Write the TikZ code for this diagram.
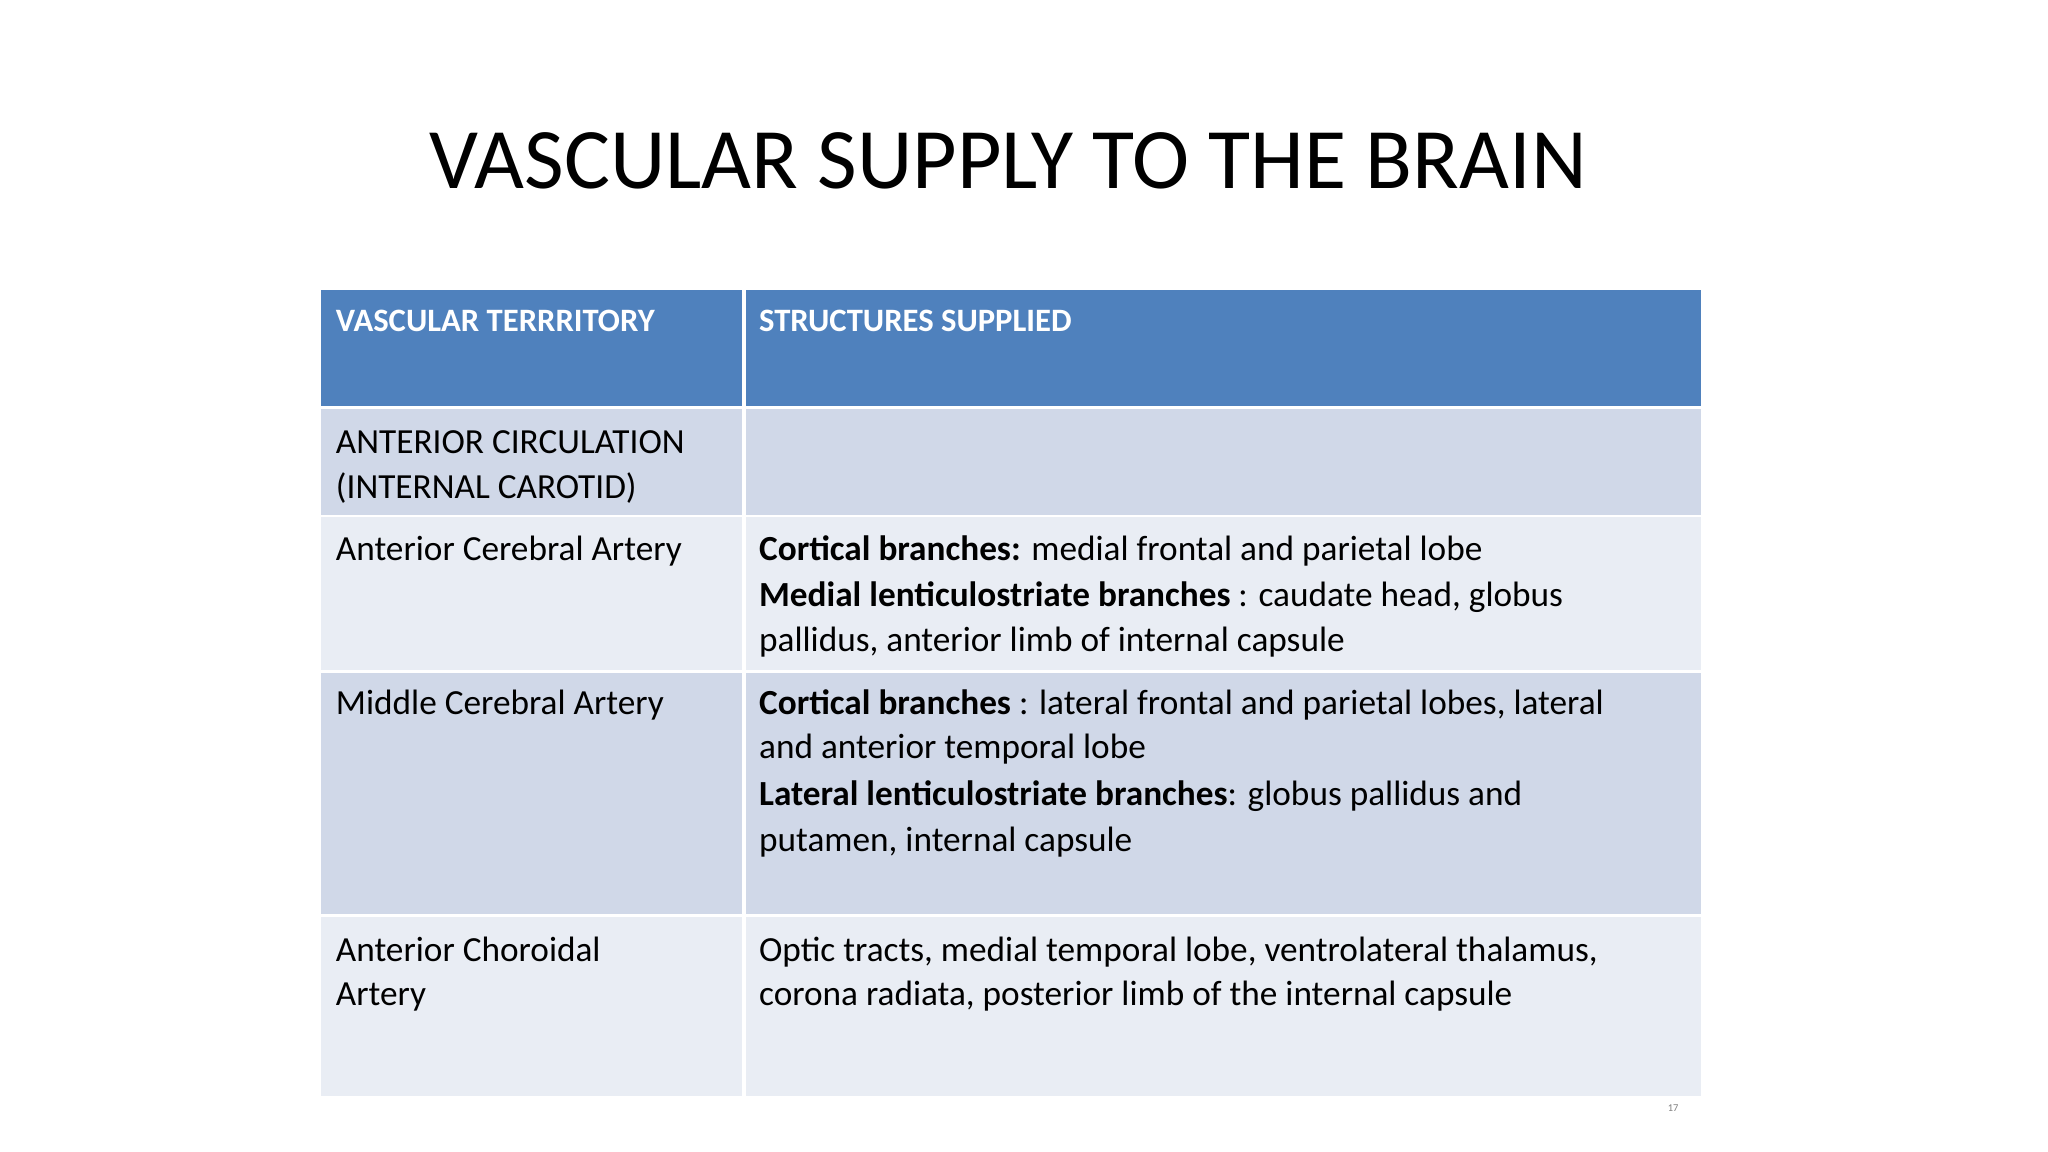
\documentclass[tikz,border=0pt]{standalone}
\usepackage{fontspec}
\setmainfont{Carlito}
\definecolor{hdr}{HTML}{4F81BD}
\definecolor{dark}{HTML}{D0D8E8}
\definecolor{light}{HTML}{E9EDF4}
\begin{document}
\begin{tikzpicture}[x=1pt,y=-1pt,
  cell/.style={draw=white,line width=3pt},
  txt/.style={anchor=base west,inner sep=0,font=\fontsize{27}{33}\selectfont,text=black},
  htxt/.style={anchor=base west,inner sep=0,font=\fontsize{25}{30}\selectfont\bfseries,text=white}]
\useasboundingbox[fill=white] (0,0) rectangle (1568,882);
\node[anchor=base,inner sep=0,font=\fontsize{66}{70}\selectfont] (title) at (772,144) {VASCULAR SUPPLY TO THE BRAIN};
% cells
\fill[hdr] (246,222) rectangle (1302,311);
\draw[white,line width=3pt] (569.5,222) -- (569.5,311);
\fill[dark] (246,313) rectangle (1302,394);
\fill[light] (246,396) rectangle (1302,513);
\fill[dark] (246,515) rectangle (1302,700);
\fill[light] (246,702) rectangle (1302,839);
\draw[white,line width=3pt] (569.5,311) -- (569.5,839);
% header
\node[htxt] (h1) at (257,254) {VASCULAR TERRRITORY};
\node[htxt] (h2) at (581,254) {STRUCTURES SUPPLIED};
% row 1
\node[txt] (a1) at (257,347) {ANTERIOR CIRCULATION};
\node[txt] (a2) at (257,382) {(INTERNAL CAROTID)};
% row 2
\node[txt] (b1) at (257,429) {Anterior Cerebral Artery};
\node[txt] (b2) at (581,429) {\textbf{Cortical branches:} medial frontal and parietal lobe};
\node[txt] (b3) at (581,464) {\textbf{Medial lenticulostriate branches} : caudate head, globus};
\node[txt] (b4) at (581,499) {pallidus, anterior limb of internal capsule};
% row 3
\node[txt] (c1) at (257,547) {Middle Cerebral Artery};
\node[txt] (c2) at (581,547) {\textbf{Cortical branches} : lateral frontal and parietal lobes, lateral};
\node[txt] (c3) at (581,581) {and anterior temporal lobe};
\node[txt] (c4) at (581,617) {\textbf{Lateral lenticulostriate branches}: globus pallidus and};
\node[txt] (c5) at (581,652) {putamen, internal capsule};
% row 4
\node[txt] (d1) at (257,736) {Anterior Choroidal};
\node[txt] (d2) at (257,770) {Artery};
\node[txt] (d3) at (581,736) {Optic tracts, medial temporal lobe, ventrolateral thalamus,};
\node[txt] (d4) at (581,770) {corona radiata, posterior limb of the internal capsule};
\node[anchor=base,inner sep=0,font=\fontsize{8}{9}\selectfont,text=gray] (pg) at (1281,851) {17};
\end{tikzpicture}
\end{document}
